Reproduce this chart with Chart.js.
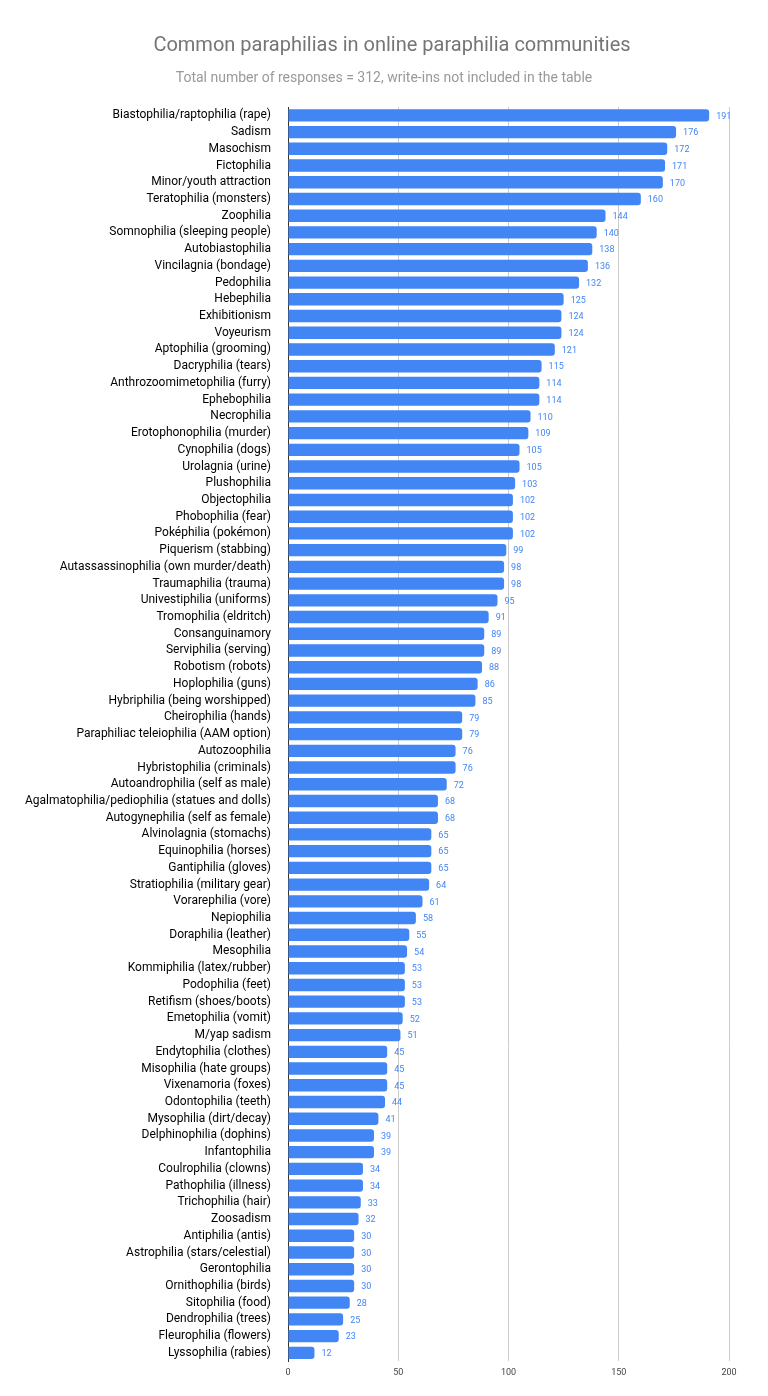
<!DOCTYPE html>
<html><head><meta charset="utf-8">
<script src="https://cdn.jsdelivr.net/npm/chart.js@4"></script>
<style>html,body{margin:0;padding:0;background:#fff}#wrap{width:768px;height:1396px;position:relative}</style>
</head><body><div id="wrap"><canvas id="c"></canvas></div>
<script>
const titleText = "Common paraphilias in online paraphilia communities";
const subtitleText = "Total number of responses = 312, write-ins not included in the table";
const categories = ["Biastophilia/raptophilia (rape)","Sadism","Masochism","Fictophilia","Minor/youth attraction","Teratophilia (monsters)","Zoophilia","Somnophilia (sleeping people)","Autobiastophilia","Vincilagnia (bondage)","Pedophilia","Hebephilia","Exhibitionism","Voyeurism","Aptophilia (grooming)","Dacryphilia (tears)","Anthrozoomimetophilia (furry)","Ephebophilia","Necrophilia","Erotophonophilia (murder)","Cynophilia (dogs)","Urolagnia (urine)","Plushophilia","Objectophilia","Phobophilia (fear)","Poképhilia (pokémon)","Piquerism (stabbing)","Autassassinophilia (own murder/death)","Traumaphilia (trauma)","Univestiphilia (uniforms)","Tromophilia (eldritch)","Consanguinamory","Serviphilia (serving)","Robotism (robots)","Hoplophilia (guns)","Hybriphilia (being worshipped)","Cheirophilia (hands)","Paraphiliac teleiophilia (AAM option)","Autozoophilia","Hybristophilia (criminals)","Autoandrophilia (self as male)","Agalmatophilia/pediophilia (statues and dolls)","Autogynephilia (self as female)","Alvinolagnia (stomachs)","Equinophilia (horses)","Gantiphilia (gloves)","Stratiophilia (military gear)","Vorarephilia (vore)","Nepiophilia","Doraphilia (leather)","Mesophilia","Kommiphilia (latex/rubber)","Podophilia (feet)","Retifism (shoes/boots)","Emetophilia (vomit)","M/yap sadism","Endytophilia (clothes)","Misophilia (hate groups)","Vixenamoria (foxes)","Odontophilia (teeth)","Mysophilia (dirt/decay)","Delphinophilia (dophins)","Infantophilia","Coulrophilia (clowns)","Pathophilia (illness)","Trichophilia (hair)","Zoosadism","Antiphilia (antis)","Astrophilia (stars/celestial)","Gerontophilia","Ornithophilia (birds)","Sitophilia (food)","Dendrophilia (trees)","Fleurophilia (flowers)","Lyssophilia (rabies)"];
const responses = [191,176,172,171,170,160,144,140,138,136,132,125,124,124,121,115,114,114,110,109,105,105,103,102,102,102,99,98,98,95,91,89,89,88,86,85,79,79,76,76,72,68,68,65,65,65,64,61,58,55,54,53,53,53,52,51,45,45,45,44,41,39,39,34,34,33,32,30,30,30,30,28,25,23,12];
const xTicks = [0,50,100,150,200];

const titlePlugin = {id:'tp', afterDraw(ch){const c=ch.ctx;c.save();c.textAlign='center';c.textBaseline='middle';
 c.fillStyle='#757575';c.font='20px Roboto, Arial';c.fillText(titleText,392,46);
 c.fillStyle='#999999';c.font='14px Roboto, Arial';c.fillText(subtitleText,384,78);c.restore();}};
const valuePlugin = {id:'vp', afterDatasetsDraw(ch){const c=ch.ctx;const m=ch.getDatasetMeta(0);c.save();c.font='9px Roboto, Arial';c.fillStyle='#4285f4';c.textBaseline='middle';
 m.data.forEach((b,i)=>{c.fillText(String(responses[i]),b.x+7,b.y+1);});c.restore();}};

new Chart(document.getElementById('c'),{type:'bar',
 data:{labels:categories,datasets:[{data:responses,backgroundColor:'#4285f4',barPercentage:0.74,categoryPercentage:1,borderRadius:{topRight:3,bottomRight:3,topLeft:0,bottomLeft:0},borderSkipped:false}]},
 options:{indexAxis:'y',responsive:true,maintainAspectRatio:false,animation:false,
  layout:{padding:{top:107,right:39,bottom:12,left:0}},
  plugins:{legend:{display:false},tooltip:{enabled:false}},
  scales:{
   x:{min:0,max:200,afterBuildTicks(a){a.ticks=xTicks.map(v=>({value:v}));},grid:{color:'#cccccc',drawTicks:false},border:{display:false},ticks:{color:'#444',font:{size:9,family:'Roboto, Arial'},padding:6}},
   y:{afterFit(a){a.width=288;},grid:{display:false},border:{color:'#333'},ticks:{color:'#000',font:{size:12,family:'Roboto, Arial'},autoSkip:false,padding:9}}
  }},
 plugins:[titlePlugin,valuePlugin]});
</script></body></html>
